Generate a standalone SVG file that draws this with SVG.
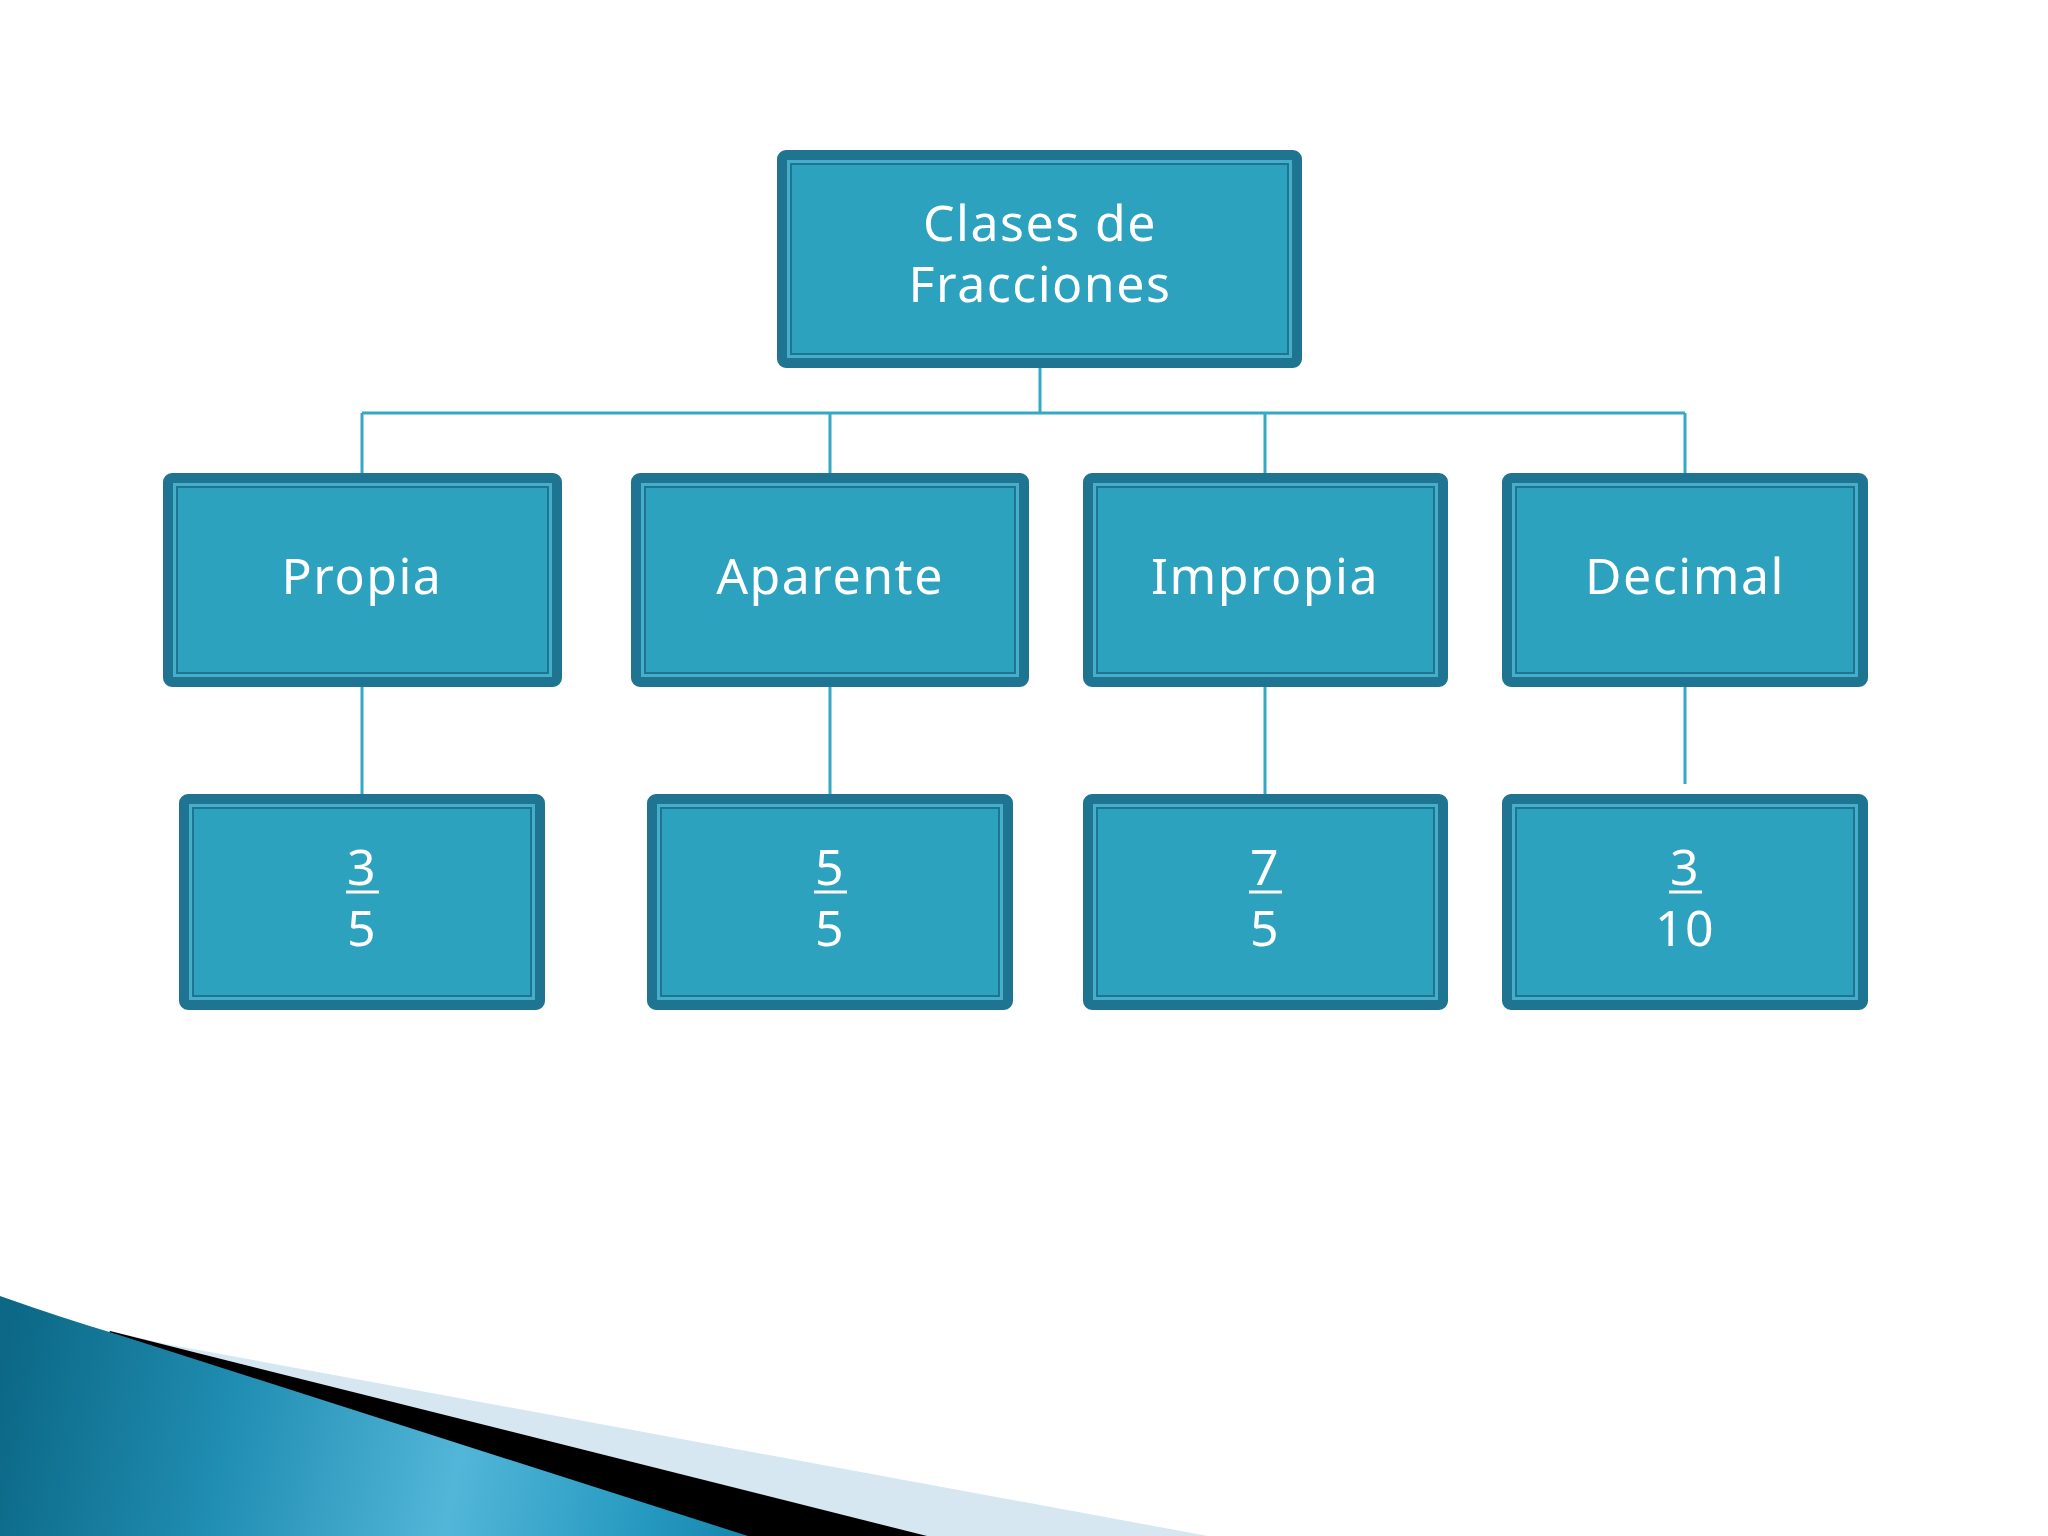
<svg xmlns="http://www.w3.org/2000/svg" width="2048" height="1536" viewBox="0 0 2048 1536">
<defs>
<style>
.outer{fill:#2ca2bf;stroke:#1e7491;stroke-width:10}
.mid{fill:none;stroke:#45aeca;stroke-width:3}
.inner{fill:none;stroke:#1e7491;stroke-width:2}
.lbl{font-family:"Noto Sans","DejaVu Sans",sans-serif;font-size:50px;fill:#ffffff;text-anchor:middle;letter-spacing:1.5px}
.conn{stroke:#35a8c4;stroke-width:3;fill:none}
.bar{stroke:#ffffff;stroke-width:3}
</style>
<linearGradient id="blueG" gradientUnits="userSpaceOnUse" x1="0" y1="1380" x2="760" y2="1536">
<stop offset="0" stop-color="#0c6886"/>
<stop offset="0.3" stop-color="#208db2"/>
<stop offset="0.6" stop-color="#52b6d8"/>
<stop offset="0.85" stop-color="#2699c0"/>
<stop offset="1" stop-color="#1583aa"/>
</linearGradient>
</defs>
<rect width="2048" height="1536" fill="#ffffff"/>

<g id="decoration">
<path d="M110,1331 L166,1344 L1208,1536 L0,1536 Z" fill="#d6e7f1"/>
<path d="M110,1331 L927,1536 L0,1536 Z" fill="#000000"/>
<path d="M0,1296 Q62,1318 116,1334 L748,1536 L0,1536 Z" fill="url(#blueG)"/>
</g>

<g id="connectors">
<line class="conn" x1="1040" y1="368" x2="1040" y2="413"/>
<line class="conn" x1="362" y1="413" x2="1685" y2="413"/>
<line class="conn" x1="362" y1="413" x2="362" y2="473"/>
<line class="conn" x1="830" y1="413" x2="830" y2="473"/>
<line class="conn" x1="1265" y1="413" x2="1265" y2="473"/>
<line class="conn" x1="1685" y1="413" x2="1685" y2="473"/>
<line class="conn" x1="362" y1="687" x2="362" y2="794"/>
<line class="conn" x1="830" y1="687" x2="830" y2="794"/>
<line class="conn" x1="1265" y1="687" x2="1265" y2="794"/>
<line class="conn" x1="1685" y1="687" x2="1685" y2="784"/>
</g>

<g id="root">
<rect class="outer" x="782" y="155" width="515" height="208" rx="4"/>
<rect class="mid" x="788.5" y="161.5" width="502" height="195"/>
<rect class="inner" x="791" y="164" width="497" height="190"/>
<text class="lbl" x="1040" y="241"><tspan x="1040" y="241">Clases de</tspan><tspan x="1040" y="302">Fracciones</tspan></text>
</g>

<g id="propia">
<rect class="outer" x="168" y="478" width="389" height="204" rx="4"/>
<rect class="mid" x="174.5" y="484.5" width="376" height="191"/>
<rect class="inner" x="177" y="487" width="371" height="186"/>
<text class="lbl" x="362" y="594">Propia</text>
</g>

<g id="aparente">
<rect class="outer" x="636" y="478" width="388" height="204" rx="4"/>
<rect class="mid" x="642.5" y="484.5" width="375" height="191"/>
<rect class="inner" x="645" y="487" width="370" height="186"/>
<text class="lbl" x="830" y="594">Aparente</text>
</g>

<g id="impropia">
<rect class="outer" x="1088" y="478" width="355" height="204" rx="4"/>
<rect class="mid" x="1094.5" y="484.5" width="342" height="191"/>
<rect class="inner" x="1097" y="487" width="337" height="186"/>
<text class="lbl" x="1265" y="594">Impropia</text>
</g>

<g id="decimal">
<rect class="outer" x="1507" y="478" width="356" height="204" rx="4"/>
<rect class="mid" x="1513.5" y="484.5" width="343" height="191"/>
<rect class="inner" x="1516" y="487" width="338" height="186"/>
<text class="lbl" x="1685" y="594">Decimal</text>
</g>

<g id="frac-3-5">
<rect class="outer" x="184" y="799" width="356" height="206" rx="4"/>
<rect class="mid" x="190.5" y="805.5" width="343" height="193"/>
<rect class="inner" x="193" y="808" width="338" height="188"/>
<text class="lbl" x="362" y="885">3</text>
<line class="bar" x1="346" y1="892" x2="379" y2="892"/>
<text class="lbl" x="362" y="946">5</text>
</g>

<g id="frac-5-5">
<rect class="outer" x="652" y="799" width="356" height="206" rx="4"/>
<rect class="mid" x="658.5" y="805.5" width="343" height="193"/>
<rect class="inner" x="661" y="808" width="338" height="188"/>
<text class="lbl" x="830" y="885">5</text>
<line class="bar" x1="814" y1="892" x2="847" y2="892"/>
<text class="lbl" x="830" y="946">5</text>
</g>

<g id="frac-7-5">
<rect class="outer" x="1088" y="799" width="355" height="206" rx="4"/>
<rect class="mid" x="1094.5" y="805.5" width="342" height="193"/>
<rect class="inner" x="1097" y="808" width="337" height="188"/>
<text class="lbl" x="1265" y="885">7</text>
<line class="bar" x1="1249" y1="892" x2="1282" y2="892"/>
<text class="lbl" x="1265" y="946">5</text>
</g>

<g id="frac-3-10">
<rect class="outer" x="1507" y="799" width="356" height="206" rx="4"/>
<rect class="mid" x="1513.5" y="805.5" width="343" height="193"/>
<rect class="inner" x="1516" y="808" width="338" height="188"/>
<text class="lbl" x="1685" y="885">3</text>
<line class="bar" x1="1669" y1="892" x2="1702" y2="892"/>
<text class="lbl" x="1685" y="946">10</text>
</g>
</svg>
